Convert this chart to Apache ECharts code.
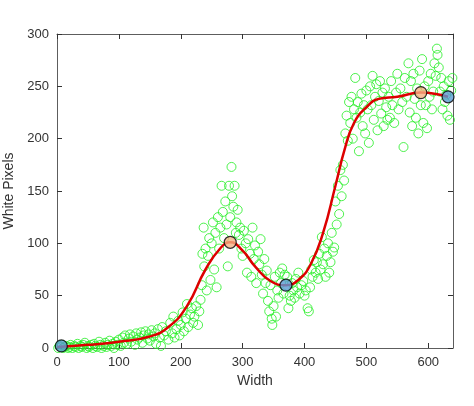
<!DOCTYPE html>
<html><head><meta charset="utf-8">
<script src="https://cdn.jsdelivr.net/npm/echarts@6/dist/echarts.min.js"></script>
<style>html,body{margin:0;background:#fff}#c{width:474px;height:406px}</style>
</head><body><div id="c"></div>
<script>
const scatterPoints = [
[2,0],[4,2],[6,1],[8,3],[10,0],[12,1],[15,2],[18,0],[20,1],[22,3],[25,0],[28,2],[30,1],[33,4],[35,0],[38,2],[40,1],[42,3],[45,5],[48,0],[50,2],[52,1],[55,3],[58,0],[60,4],[62,2],[65,1],[68,6],[70,3],[72,0],[75,2],[78,5],[80,1],[82,3],[85,7],[88,2],[90,4],[92,0],[95,6],[98,3],
[100,8],[103,2],[106,10],[108,5],[110,12],[113,4],[116,9],[118,13],[120,6],[123,11],[126,3],[128,14],[130,8],[133,10],[136,15],[138,5],[140,12],[143,16],[146,9],[148,13],[150,7],[153,17],[156,11],[158,14],[160,4],[163,18],[166,10],[168,2],[170,20],[173,12],
[176,16],[180,8],[183,24],[186,14],[188,30],[190,10],[193,18],[196,26],[198,12],[200,22],[203,34],[205,16],[208,28],[210,42],[212,20],[215,32],[218,38],[220,24],[222,30],[225,40],[228,22],[230,35],[232,46],[234,60],[235,90],[237,115],[238,78],[240,95],
[242,55],[244,88],[246,105],[248,65],[250,100],[252,120],[254,75],[256,110],[258,58],[260,125],[262,95],[264,115],[266,155],[268,130],[270,105],[272,140],[274,118],[276,78],[278,155],[280,125],[282,173],[283,145],[285,135],[287,155],[289,110],[290,120],
[292,132],[294,108],[296,115],[298,95],[300,88],[302,112],[305,100],[307,72],[309,104],[312,90],[314,68],[316,115],[318,85],[320,98],[322,62],[325,92],[327,80],[329,104],[331,70],[333,52],[335,85],[337,62],[339,74],[341,45],[343,35],[345,60],[347,28],[348,22],
[350,40],[352,68],[354,30],[356,55],[358,48],[360,72],[362,62],[364,76],[366,52],[368,70],[372,68],[374,38],[376,50],[378,45],[380,62],[382,55],[384,48],[386,66],[388,58],[390,72],[392,52],[395,60],[398,64],[400,50],[402,55],[405,38],[407,35],[409,58],
[411,75],[413,68],[415,84],[418,72],[420,82],[422,66],[424,90],[426,75],[428,106],[430,80],[432,95],[434,68],[436,88],[438,100],[440,72],[442,82],[444,110],[446,92],[448,96],[450,140],[452,118],[454,155],[456,128],[458,170],[460,145],[462,175],[464,160],
[466,205],[468,222],[470,198],[472,235],[474,215],[476,240],[478,200],[480,228],[482,258],[484,220],[486,235],[488,188],[490,225],[492,243],[494,212],[496,232],[498,205],[500,246],[502,228],[504,196],[506,250],[508,232],[510,260],[512,218],[514,240],
[516,252],[518,208],[520,236],[522,255],[524,224],[526,244],[528,212],[530,248],[532,230],[534,218],[536,240],[538,220],[540,255],[542,232],[545,215],[548,244],[550,262],[552,228],[555,248],[558,235],[560,192],[562,258],[565,240],[568,272],[570,225],
[572,255],[574,212],[576,262],[578,238],[580,220],[582,248],[584,205],[586,265],[588,232],[590,276],[592,215],[594,250],[596,232],[598,210],[600,255],[602,240],[604,262],[606,228],[608,245],[610,272],[612,260],[614,286],[615,280],[617,268],[619,245],
[621,258],[623,228],[625,250],[627,235],[629,242],[631,222],[633,255],[635,218],[637,246],[639,258]
];
const curveX = [0,50,100,150,180,210,240,265,280,300,320,345,370,390,410,430,450,465,480,500,520,550,588,610,632];
const curveY = [1,3,6,11,20,40,75,96,101,93,78,64,60,65,80,110,155,190,215,230,238,240,244,243,240];
const blueMarks = [[7,2],[370,60],[632,240]];
const orangeMarks = [[280,101],[588,244]];

const font = 'Liberation Sans';
const lab = {color:'#333', fontSize:13, fontFamily:font};
const chart = echarts.init(document.getElementById('c'));
const mk = (pos, show) => ({
  type:'value', position:pos, min:0,
  axisLine:{show:true,onZero:false,lineStyle:{color:'#333',width:0.8}},
  axisTick:{show:true,inside:true,length:5,lineStyle:{color:'#333'}},
  axisLabel:{show:show, showMaxLabel: pos!=='bottom', ...lab}, splitLine:{show:false}
});
chart.setOption({
  animation:false,
  grid:{left:57,right:21,top:34,bottom:58,containLabel:false,outerBoundsMode:'none'},
  xAxis:[{...mk('bottom',true),max:640,interval:100,name:'Width',nameLocation:'middle',nameGap:26,nameTextStyle:{...lab,fontSize:14}},
         {...mk('top',false),max:640,interval:100}],
  yAxis:[{...mk('left',true),max:300,interval:50,name:'White Pixels',nameLocation:'middle',nameGap:34,nameTextStyle:{...lab,fontSize:14}},
         {...mk('right',false),max:300,interval:50}],
  series:[
    {type:'scatter',data:scatterPoints,symbol:'circle',symbolSize:9,
     itemStyle:{color:'rgba(0,0,0,0)',borderColor:'#22ee22',borderWidth:1},
     },
    {type:'line',data:curveX.map((x,i)=>[x,curveY[i]]),smooth:0.5,showSymbol:false,
     lineStyle:{color:'#dd0000',width:2.5}},
    {type:'scatter',data:blueMarks,symbolSize:12,itemStyle:{color:'#5b9bd5',borderColor:'#000',borderWidth:1.2},z:5},
    {type:'scatter',data:orangeMarks,symbolSize:12,itemStyle:{color:'#f4b183',borderColor:'#000',borderWidth:1.2},z:5}
  ]
});
</script></body></html>
